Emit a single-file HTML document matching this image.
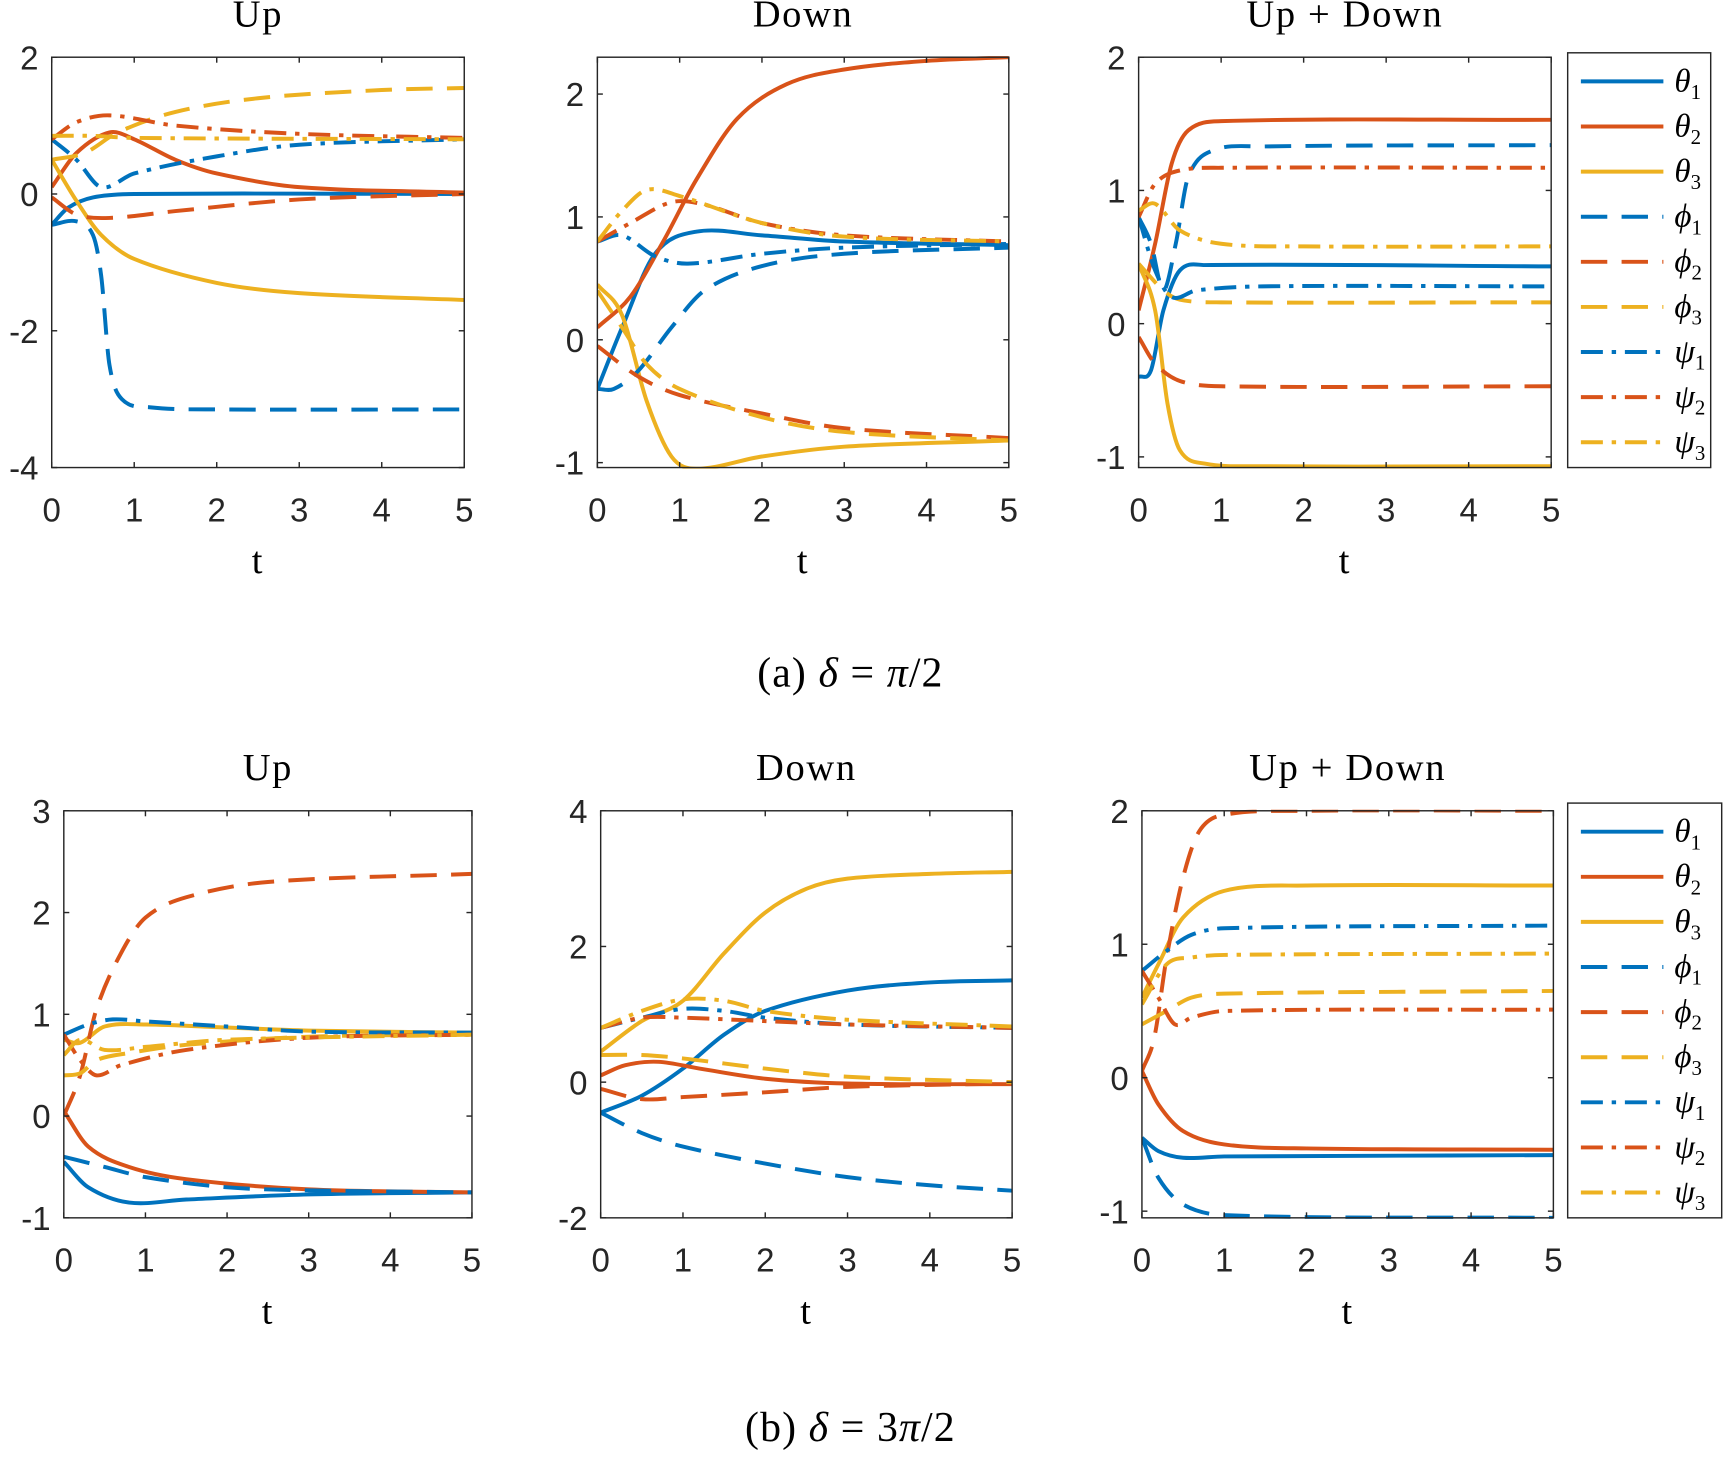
<!DOCTYPE html>
<html><head><meta charset="utf-8"><style>
html,body{margin:0;padding:0;background:#fff}
svg{display:block}
.tk{font-family:"Liberation Sans",sans-serif;font-size:30px;fill:#262626}
.ti{font-family:"Liberation Serif",serif;font-size:35px;fill:#000;letter-spacing:1.5px}
.cap{font-family:"Liberation Serif",serif;font-size:38px;fill:#000;letter-spacing:1px}
.lg{font-family:"Liberation Serif",serif;font-size:30px;font-style:italic;fill:#000}
.sub{font-size:19px;font-style:normal}
</style></head><body>
<svg id="s" width="1725" height="1457" viewBox="0 0 1568 1324.4" xmlns="http://www.w3.org/2000/svg">
<rect width="1568" height="1325" fill="#fff"/>
<text class="cap" x="773" y="624" text-anchor="middle">(a) <tspan font-style="italic">δ</tspan> = <tspan font-style="italic">π</tspan>/2</text>
<text class="cap" x="773" y="1310" text-anchor="middle">(b) <tspan font-style="italic">δ</tspan> = 3<tspan font-style="italic">π</tspan>/2</text>
</svg>
<script>
const S=document.getElementById('s'),NS='http://www.w3.org/2000/svg';
function el(n,a,t){const e=document.createElementNS(NS,n);for(const k in a)e.setAttribute(k,a[k]);if(t!=null)e.textContent=t;S.appendChild(e);return e;}
const B='#0072BD',O='#D95319',Y='#EDB120';
const D='24 13',DD='20 8 4 8';
const styles=[[B,''],[O,''],[Y,''],[B,D],[O,D],[Y,D],[B,DD],[O,DD],[Y,DD]];
let cid=0;
function panel(x0,x1,y0,y1,ymin,ymax,ticks,title,curves){
 const X=t=>x0+(x1-x0)*t/5, Yf=v=>y1-(y1-y0)*(v-ymin)/(ymax-ymin);
 const id='c'+(cid++);
 const cp=el('clipPath',{id});const r=document.createElementNS(NS,'rect');
 r.setAttribute('x',x0);r.setAttribute('y',y0-1);r.setAttribute('width',x1-x0+1);r.setAttribute('height',y1-y0+2);cp.appendChild(r);
 curves.forEach((pts,i)=>{
  const P=pts.map(p=>[X(p[0]),Yf(p[1])]);
  let d='M'+P[0][0]+','+P[0][1];
  for(let k=0;k<P.length-1;k++){
   const p0=P[k-1]||P[k],p1=P[k],p2=P[k+1],p3=P[k+2]||P[k+1];
   const dx=p2[0]-p1[0];
   let m1=(p2[1]-p0[1])/((p2[0]-p0[0])||1),m2=(p3[1]-p1[1])/((p3[0]-p1[0])||1);
   if(k==0)m1=(p2[1]-p1[1])/dx;
   if(k==P.length-2)m2=(p2[1]-p1[1])/dx;
   d+=' C'+(p1[0]+dx/3)+','+(p1[1]+m1*dx/3)+' '+(p2[0]-dx/3)+','+(p2[1]-m2*dx/3)+' '+p2[0]+','+p2[1];
  }
  const a={d,fill:'none',stroke:styles[i][0],'stroke-width':3.6,'clip-path':'url(#'+id+')'};
  if(styles[i][1])a['stroke-dasharray']=styles[i][1];
  el('path',a);
 });
 el('rect',{x:x0,y:y0,width:x1-x0,height:y1-y0,fill:'none',stroke:'#262626','stroke-width':1.3});
 for(let t=0;t<=5;t++){const x=X(t);
  el('line',{x1:x,x2:x,y1:y1,y2:y1-5,stroke:'#262626','stroke-width':1.3});
  el('line',{x1:x,x2:x,y1:y0,y2:y0+5,stroke:'#262626','stroke-width':1.3});
  el('text',{class:'tk',x:x,y:y1+49,'text-anchor':'middle'},t);}
 ticks.forEach(v=>{const y=Yf(v);
  el('line',{x1:x0,x2:x0+5,y1:y,y2:y,stroke:'#262626','stroke-width':1.3});
  el('line',{x1:x1,x2:x1-5,y1:y,y2:y,stroke:'#262626','stroke-width':1.3});
  el('text',{class:'tk',x:x0-12,y:y+11,'text-anchor':'end'},v);});
 el('text',{class:'ti',x:(x0+x1)/2,y:y0-28,'text-anchor':'middle'},title);
 el('text',{class:'ti',x:(x0+x1)/2,y:y1+96,'text-anchor':'middle'},'t');
}
function legend(x0,y0,x1,y1,r0){
 el('rect',{x:x0,y:y0,width:x1-x0,height:y1-y0,fill:'#fff',stroke:'#262626','stroke-width':1.3});
 const names=['θ','θ','θ','ϕ','ϕ','ϕ','ψ','ψ','ψ'];
 for(let i=0;i<9;i++){const y=r0+i*41;
  const a={x1:x0+12,x2:x0+87,y1:y,y2:y,stroke:styles[i][0],'stroke-width':3.6};
  if(styles[i][1])a['stroke-dasharray']=styles[i][1];
  el('line',a);
  const t=el('text',{class:'lg',x:x0+97,y:y+9});
  t.innerHTML=names[i]+'<tspan class="sub" dy="7">'+(i%3+1)+'</tspan>';
 }
}
panel(47,422,52,425,-4,2,[2,0,-2,-4],'Up',[
[[0,-0.45],[0.2,-0.2],[0.5,-0.05],[1,0],[5,0]],
[[0,0.1],[0.3,0.6],[0.7,0.9],[1,0.8],[1.5,0.5],[2,0.3],[3,0.1],[5,0.02]],
[[0,0.5],[0.3,-0.1],[0.6,-0.6],[1,-0.95],[2,-1.3],[3,-1.45],[5,-1.55]],
[[0,-0.45],[0.3,-0.4],[0.5,-0.6],[0.6,-1.2],[0.7,-2.5],[0.85,-3.0],[1.2,-3.12],[2,-3.15],[5,-3.15]],
[[0,-0.05],[0.3,-0.3],[0.7,-0.35],[1.5,-0.25],[3,-0.08],[5,0]],
[[0,0.5],[0.4,0.6],[0.8,0.9],[1.5,1.2],[2.5,1.4],[4,1.52],[5,1.55]],
[[0,0.8],[0.3,0.5],[0.6,0.1],[1,0.3],[2,0.55],[3,0.72],[5,0.8]],
[[0,0.8],[0.3,1.05],[0.7,1.15],[1.5,1.0],[3,0.88],[5,0.82]],
[[0,0.85],[0.5,0.85],[1,0.82],[5,0.8]]]);
panel(543,917,52,425,-1.04,2.3,[2,1,0,-1],'Down',[
[[0,-0.4],[0.3,0.1],[0.7,0.7],[1.2,0.88],[2,0.85],[3,0.8],[5,0.77]],
[[0,0.1],[0.4,0.35],[0.8,0.8],[1.2,1.3],[1.7,1.8],[2.3,2.08],[3,2.2],[4,2.27],[5,2.3]],
[[0,0.45],[0.3,0.2],[0.6,-0.5],[0.9,-0.95],[1.2,-1.05],[2,-0.95],[3,-0.87],[5,-0.82]],
[[0,-0.4],[0.2,-0.4],[0.5,-0.25],[0.9,0.1],[1.3,0.4],[2,0.6],[3,0.7],[5,0.75]],
[[0,-0.05],[0.5,-0.3],[1,-0.45],[2,-0.6],[3,-0.72],[5,-0.8]],
[[0,0.4],[0.3,0.1],[0.6,-0.2],[1,-0.4],[2,-0.63],[3,-0.75],[5,-0.82]],
[[0,0.8],[0.3,0.85],[0.7,0.68],[1.1,0.62],[2,0.7],[3,0.75],[5,0.78]],
[[0,0.8],[0.4,0.95],[0.9,1.12],[1.3,1.1],[2,0.95],[3,0.85],[5,0.8]],
[[0,0.8],[0.3,1.05],[0.6,1.22],[1,1.17],[2,0.95],[3,0.84],[5,0.8]]]);
panel(1035,1410,52,425,-1.08,2,[2,1,0,-1],'Up + Down',[
[[0,-0.4],[0.15,-0.35],[0.3,0.1],[0.5,0.4],[0.8,0.44],[5,0.43]],
[[0,0.1],[0.2,0.6],[0.4,1.2],[0.6,1.45],[1,1.52],[5,1.53]],
[[0,0.45],[0.2,0.1],[0.35,-0.6],[0.5,-0.95],[0.8,-1.05],[1.5,-1.07],[5,-1.07]],
[[0,0.8],[0.15,0.6],[0.3,0.25],[0.45,0.6],[0.6,1.1],[0.9,1.3],[1.5,1.33],[5,1.34]],
[[0,-0.1],[0.2,-0.3],[0.5,-0.43],[1,-0.47],[5,-0.47]],
[[0,0.45],[0.3,0.25],[0.5,0.18],[1,0.16],[5,0.16]],
[[0,0.8],[0.2,0.4],[0.4,0.2],[0.7,0.25],[1.5,0.28],[5,0.28]],
[[0,0.8],[0.2,1.05],[0.5,1.15],[1,1.17],[5,1.17]],
[[0,0.85],[0.2,0.9],[0.5,0.7],[1,0.6],[2,0.58],[5,0.58]]]);
panel(58,429,737,1107,-1,3,[3,2,1,0,-1],'Up',[
[[0,-0.45],[0.3,-0.7],[0.8,-0.85],[1.5,-0.82],[3,-0.77],[5,-0.75]],
[[0,0.05],[0.3,-0.3],[0.8,-0.5],[1.5,-0.62],[3,-0.72],[5,-0.75]],
[[0,0.75],[0.2,0.72],[0.5,0.88],[1,0.9],[2,0.87],[3,0.84],[5,0.82]],
[[0,-0.4],[0.5,-0.5],[1,-0.6],[2,-0.7],[3,-0.73],[5,-0.75]],
[[0,0],[0.2,0.4],[0.4,1.05],[0.7,1.6],[1,1.95],[1.5,2.15],[2.5,2.3],[5,2.38]],
[[0,0.4],[0.2,0.42],[0.4,0.55],[0.8,0.62],[1.5,0.7],[3,0.78],[5,0.8]],
[[0,0.8],[0.3,0.9],[0.6,0.95],[1,0.93],[2,0.88],[3,0.83],[5,0.82]],
[[0,0.8],[0.2,0.55],[0.4,0.4],[0.7,0.5],[1.5,0.65],[3,0.77],[5,0.8]],
[[0,0.6],[0.2,0.75],[0.5,0.65],[1,0.68],[2,0.75],[5,0.8]]]);
panel(546,920,737,1107,-2,4,[4,2,0,-2],'Down',[
[[0,-0.45],[0.5,-0.2],[1,0.2],[1.5,0.7],[2,1.05],[3,1.35],[4,1.47],[5,1.5]],
[[0,0.1],[0.3,0.25],[0.7,0.3],[1.2,0.2],[2,0.05],[3,-0.02],[5,-0.03]],
[[0,0.45],[0.5,0.9],[1,1.2],[1.5,1.9],[2,2.5],[2.5,2.85],[3,3.0],[4,3.07],[5,3.1]],
[[0,-0.45],[0.5,-0.75],[1,-0.95],[2,-1.2],[3,-1.4],[4,-1.52],[5,-1.6]],
[[0,-0.1],[0.5,-0.25],[1,-0.22],[2,-0.15],[3,-0.07],[5,-0.02]],
[[0,0.4],[0.5,0.4],[1,0.35],[2,0.2],[3,0.08],[5,0.0]],
[[0,0.8],[0.5,0.95],[1,1.08],[1.5,1.05],[2,0.95],[3,0.85],[5,0.8]],
[[0,0.8],[0.5,0.95],[1,0.95],[2,0.9],[3,0.85],[5,0.8]],
[[0,0.8],[0.5,1.05],[1,1.22],[1.5,1.2],[2,1.05],[3,0.92],[5,0.82]]]);
panel(1038,1412,737,1107,-1.05,2,[2,1,0,-1],'Up + Down',[
[[0,-0.45],[0.2,-0.55],[0.5,-0.6],[1,-0.59],[5,-0.58]],
[[0,0.05],[0.2,-0.2],[0.5,-0.4],[1,-0.5],[2,-0.53],[5,-0.54]],
[[0,0.6],[0.2,0.85],[0.5,1.2],[1,1.4],[2,1.44],[5,1.44]],
[[0,-0.45],[0.2,-0.75],[0.5,-0.95],[1,-1.03],[5,-1.05]],
[[0,0.05],[0.15,0.3],[0.3,0.9],[0.5,1.5],[0.7,1.85],[1,1.97],[2,2.0],[5,2.0]],
[[0,0.4],[0.3,0.5],[0.6,0.6],[1,0.63],[5,0.65]],
[[0,0.8],[0.3,0.95],[0.6,1.07],[1,1.12],[5,1.14]],
[[0,0.8],[0.2,0.6],[0.4,0.4],[0.6,0.45],[1,0.5],[5,0.51]],
[[0,0.55],[0.3,0.85],[0.6,0.9],[1,0.92],[5,0.93]]]);
legend(1425,48,1555,425,74);
legend(1425,730,1565,1107,756);
</script>
</body></html>
